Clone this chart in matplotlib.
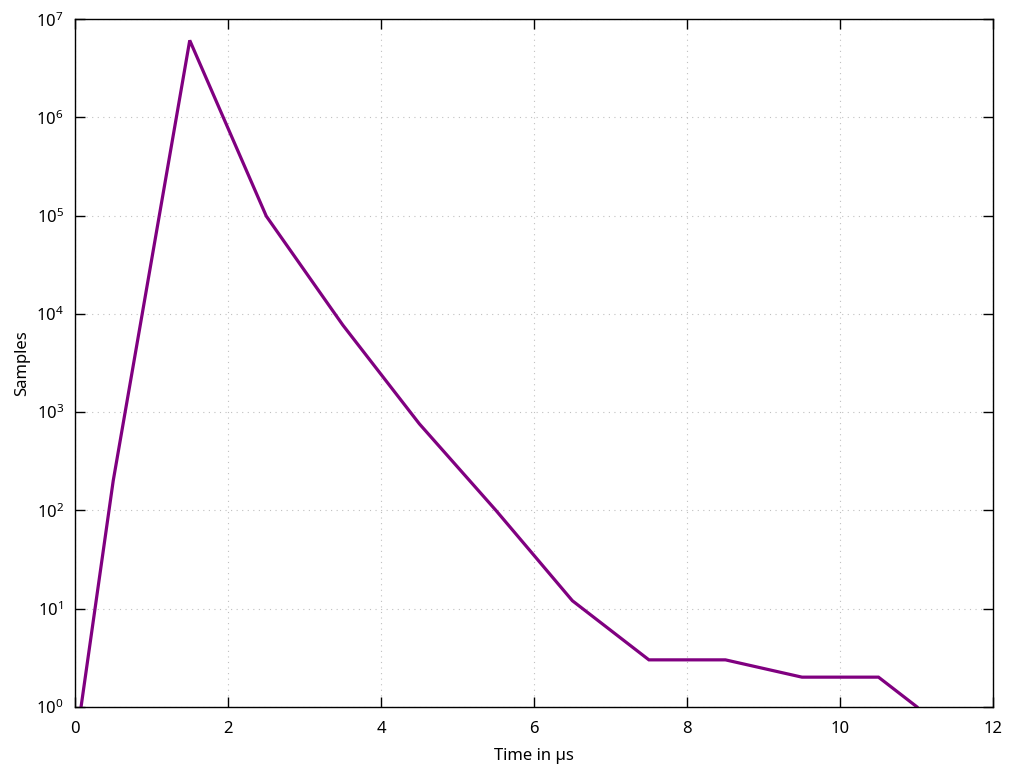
import matplotlib
matplotlib.use("Agg")
import matplotlib.pyplot as plt
from matplotlib.ticker import LogLocator, LogFormatterMathtext, MultipleLocator, NullLocator

# Datos (tiempo en us, numero de muestras)
time_us = [0.08, 0.5, 1.5, 2.5, 3.5, 4.5, 5.5, 6.5, 7.5, 8.5, 9.5, 10.5, 11.0]
samples = [1, 200, 6.1e6, 9.9e4, 7700, 760, 100, 12, 3, 3, 2, 2, 1]

plt.rcParams['font.family'] = ['Noto Sans', 'DejaVu Sans']
plt.rcParams['mathtext.fontset'] = 'custom'
plt.rcParams['mathtext.rm'] = 'Noto Sans'
plt.rcParams['mathtext.it'] = 'Noto Sans:italic'
plt.rcParams['mathtext.bf'] = 'Noto Sans:bold'

fig = plt.figure(figsize=(10.24, 7.68), dpi=100)
ax = fig.add_axes([0.0732, 0.0798, 0.8968, 0.8951])

ax.plot(time_us, samples, color='#800080', linewidth=2.3, solid_joinstyle='miter')

ax.set_yscale('log')
ax.set_xlim(0, 12)
ax.set_ylim(1, 1e7)
ax.xaxis.set_major_locator(MultipleLocator(2))
ax.yaxis.set_major_locator(LogLocator(base=10, numticks=10))
ax.yaxis.set_major_formatter(LogFormatterMathtext())
ax.yaxis.set_minor_locator(NullLocator())

ax.tick_params(direction='in', top=True, right=True, length=7, width=1,
               labelsize=12)
ax.tick_params(axis='x', pad=10)
ax.tick_params(axis='y', pad=8)
ax.grid(True, linestyle=(0, (1, 4)), color='#c0c0c0', linewidth=0.8)

for s in ax.spines.values():
    s.set_linewidth(1.0)

ax.set_xlabel("Time in µs", fontsize=12, labelpad=8)
ax.set_ylabel("Samples", fontsize=12, labelpad=4)

fig.savefig("out.png", dpi=100)
